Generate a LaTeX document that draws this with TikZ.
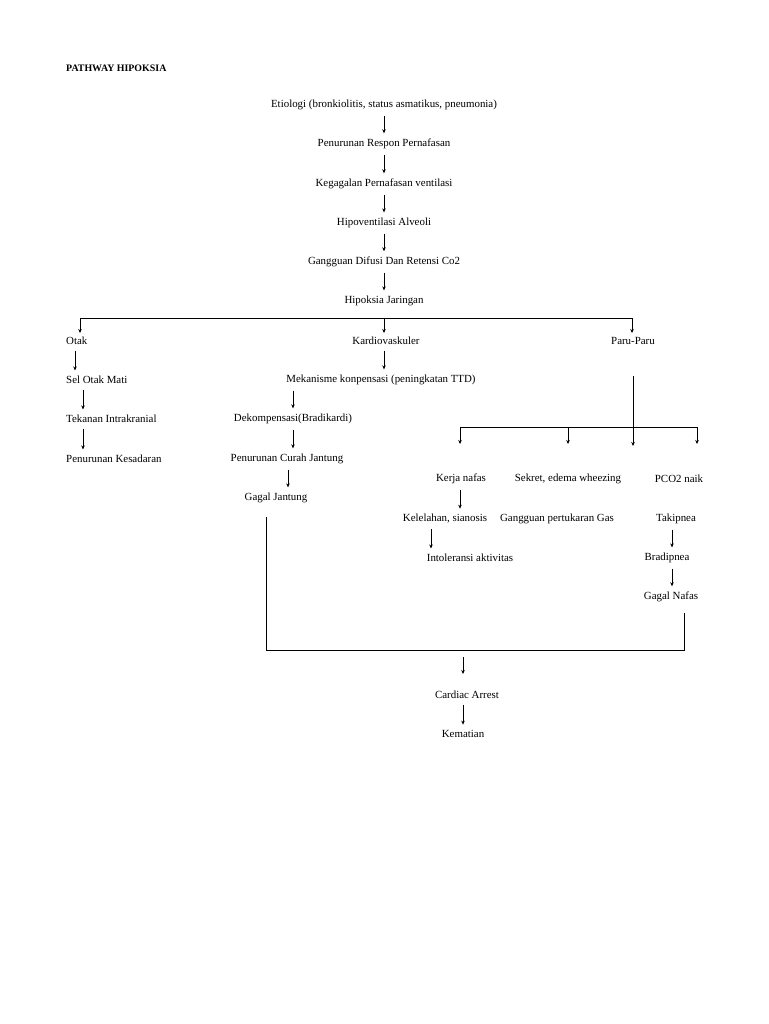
\documentclass[tikz,border=0pt]{standalone}
\usepackage{fontspec}
\setmainfont{Liberation Serif}
\usetikzlibrary{arrows.meta}
\begin{document}
\begin{tikzpicture}[x=1pt,y=-1pt,
  t/.style={inner xsep=1pt,inner ysep=5.5pt,font=\fontsize{10.9}{12}\selectfont},
  tl/.style={t,anchor=west},
  arr/.style={-{Stealth[length=4pt,width=3.5pt]},line width=0.6pt},
  ln/.style={line width=0.6pt}]
\useasboundingbox (0,0) rectangle (768,1024);
\fill[white] (0,0) rectangle (768,1024);
\node[anchor=west,font=\bfseries\fontsize{9.9}{11}\selectfont,inner sep=0] (title) at (66,68) {PATHWAY HIPOKSIA};
\node[t] (eti) at (384,105) {Etiologi (bronkiolitis, status asmatikus, pneumonia)};
\node[t] (prp) at (384,144) {Penurunan Respon Pernafasan};
\node[t] (kpv) at (384,184) {Kegagalan Pernafasan ventilasi};
\node[t] (hva) at (384,223) {Hipoventilasi Alveoli};
\node[t] (gdr) at (384,262) {Gangguan Difusi Dan Retensi Co2};
\node[t] (hj) at (384,301) {Hipoksia Jaringan};
\draw[arr] (eti) -- (prp);
\draw[arr] (prp) -- (kpv);
\draw[arr] (kpv) -- (hva);
\draw[arr] (hva) -- (gdr);
\draw[arr] (gdr) -- (hj);
% branch
\node[tl] (otak) at (65,341) {Otak};
\node[t] (kard) at (386,341) {Kardiovaskuler};
\node[t] (paru) at (633,341) {Paru-Paru};
\coordinate (bl) at (80,318);
\coordinate (br) at (632,318);
\draw[ln] (bl) -- (br);
\draw[arr] (bl) -- (80,333);
\draw[arr] (384,318) -- (384,333);
\draw[arr] (br) -- (632,333);
% otak column
\node[tl] (som) at (65,380) {Sel Otak Mati};
\node[tl] (ti) at (65,419) {Tekanan Intrakranial};
\node[tl] (pk) at (65,459) {Penurunan Kesadaran};
\draw[arr] (otak.south -| 75,0) -- (som.north -| 75,0);
\draw[arr] (som.south -| 83,0) -- (ti.north -| 83,0);
\draw[arr] (ti.south -| 83,0) -- (pk.north -| 83,0);
% kardio column
\node[t] (mek) at (381,380) {Mekanisme konpensasi (peningkatan TTD)};
\node[t] (dek) at (293,419) {Dekompensasi(Bradikardi)};
\node[t] (pcj) at (287,459) {Penurunan Curah Jantung};
\node[t] (gj) at (276,498) {Gagal Jantung};
\draw[arr] (kard.south -| 384,0) -- (mek.north -| 384,0);
\draw[arr] (mek.south -| 293,0) -- (dek.north -| 293,0);
\draw[arr] (dek.south -| 293,0) -- (pcj.north -| 293,0);
\draw[arr] (pcj.south -| 288,0) -- (gj.north -| 288,0);
% paru column
\coordinate (pl) at (460,427);
\coordinate (pr) at (697,427);
\draw[arr] (633,376) -- (633,446);
\draw[ln] (pl) -- (pr);
\node[t] (kn) at (461,479) {Kerja nafas};
\node[t] (sek) at (568,479) {Sekret, edema wheezing};
\node[t] (pco) at (679,479) {PCO2 naik};
\draw[arr] (pl) -- (460,444);
\draw[arr] (568,427) -- (568,444);
\draw[arr] (pr) -- (697,444);
\node[t] (kel) at (445,519) {Kelelahan, sianosis};
\node[t] (gpg) at (557,519) {Gangguan pertukaran Gas};
\node[t] (tak) at (676,519) {Takipnea};
\draw[arr] (kn.south -| 460,0) -- (kel.north -| 460,0);
\node[t] (int) at (470,558) {Intoleransi aktivitas};
\draw[arr] (kel.south -| 431,0) -- (int.north -| 431,0);
\node[t] (bra) at (667,558) {Bradipnea};
\node[t] (gn) at (671,597) {Gagal Nafas};
\draw[arr] (tak.south -| 672,0) -- (bra.north -| 672,0);
\draw[arr] (bra.south -| 672,0) -- (gn.north -| 672,0);
% merge
\coordinate (ml) at (266,517);
\coordinate (mr) at (684,613);
\draw[ln] (ml) -- (266,650) -- (684,650) -- (mr);
\node[t] (ca) at (467,695) {Cardiac Arrest};
\node[t] (kem) at (463,734) {Kematian};
\draw[arr] (463,657) -- (463,674);
\draw[arr] (ca.south -| 463,0) -- (kem.north -| 463,0);
\end{tikzpicture}
\end{document}
